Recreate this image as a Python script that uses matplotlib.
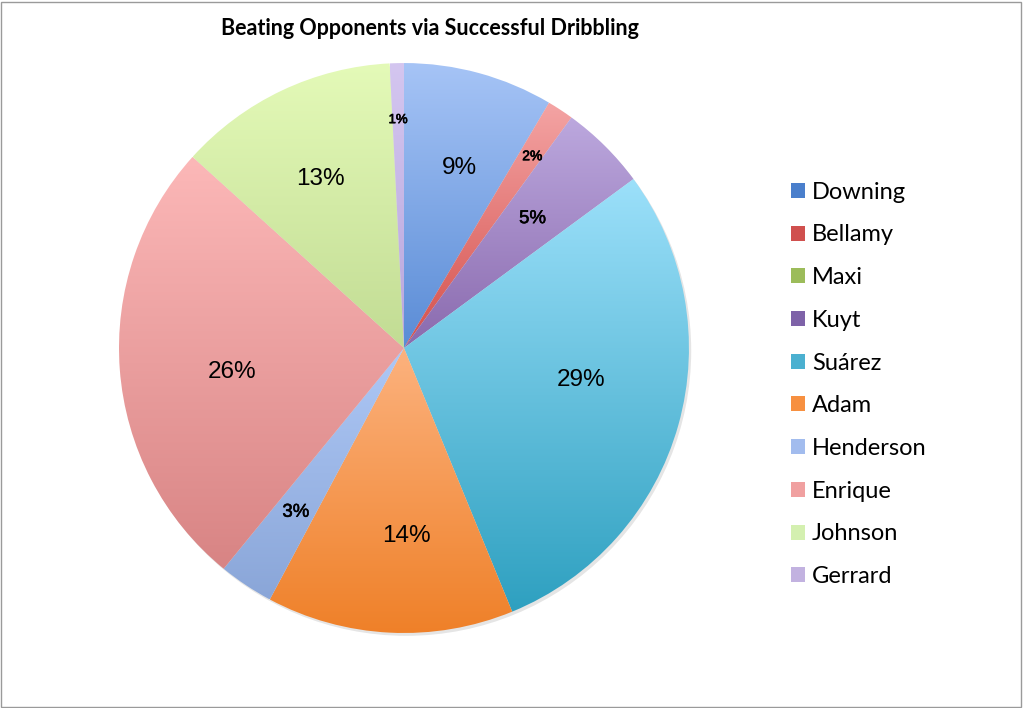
import matplotlib
matplotlib.use('Agg')
import matplotlib.pyplot as plt
import matplotlib.patheffects as pe
import numpy as np
from matplotlib.colors import to_rgb
from matplotlib.patches import Rectangle, Patch, Circle

# data (share of successful dribbles, %)
players = ['Downing', 'Bellamy', 'Maxi', 'Kuyt', 'Suárez', 'Adam',
           'Henderson', 'Enrique', 'Johnson', 'Gerrard']
shares = [8.5, 1.5, 0.0, 4.9, 28.9, 14.0, 3.1, 25.8, 12.5, 0.8]
pct_labels = ['9%', '2%', '', '5%', '29%', '14%', '3%', '26%', '13%', '1%']

# styling: each slice fades from a light top to a darker bottom
top_colors = ['#a6c4f6', '#f4a4a4', '#c8e4a0', '#bca8de', '#9ce0fa',
              '#fcb27e', '#aec8f6', '#fcb8b8', '#e4fab8', '#d4c6f0']
bottom_colors = ['#5a8cd6', '#d4504c', '#9bbb59', '#8a6aae', '#2ea0c0',
                 '#ef8028', '#8aa6d8', '#d88484', '#c2dc94', '#b8a6dc']
legend_colors = ['#4a7fcc', '#d0504e', '#9cbc5a', '#7e62a8', '#4bb0d0',
                 '#f79040', '#a2bcee', '#f0a0a0', '#d4f0b0', '#c2b2e0']
# label placement: distance from centre and angle nudge (deg, clockwise)
label_radius = [0.66, 0.81, 0.7, 0.64, 0.63, 0.66, 0.69, 0.61, 0.66, 0.80]
label_shift = [2.0, 0.5, 0, 0, -5.3, -3.5, -0.3, -3.6, -0.9, 0]
label_size = [17.5, 10, 10, 13.4, 17.5, 17.5, 13.4, 17.5, 17.5, 9.5]
label_stroke = [0, 0.5, 0.5, 0.4, 0, 0, 0.4, 0, 0, 0.5]

fig = plt.figure(figsize=(10.24, 7.08), dpi=100)
ax = fig.add_axes([0.1162, 0.1059, 0.5566, 0.8051])

wedges, _ = ax.pie(shares, startangle=90, counterclock=False, radius=1,
                   wedgeprops=dict(linewidth=0))

# soft shadow behind the pie
ax.add_patch(Circle((0.008, -0.010), 1.0, color='black', alpha=0.10,
                    zorder=0, lw=0, clip_on=False))

grad = np.linspace(0, 1, 256)[:, None, None]
for w, top, bot in zip(wedges, top_colors, bottom_colors):
    if w.theta2 - w.theta1 <= 0:
        continue
    verts = w.get_path().vertices
    x0, y0 = verts.min(axis=0)
    x1, y1 = verts.max(axis=0)
    c0 = np.array(to_rgb(top))
    c1 = np.array(to_rgb(bot))
    img = c0 * (1 - grad) + c1 * grad
    im = ax.imshow(img, extent=[x0, x1, y0, y1], origin='upper',
                   aspect='auto', interpolation='bilinear', zorder=2)
    im.set_clip_path(w)
    w.set_facecolor('none')

for w, txt, r, sh, fs, sw in zip(wedges, pct_labels, label_radius,
                                 label_shift, label_size, label_stroke):
    if not txt:
        continue
    ang = np.deg2rad((w.theta1 + w.theta2) / 2 - sh)
    t = ax.text(r * np.cos(ang), r * np.sin(ang), txt, ha='center', va='center',
                fontsize=fs, family='Liberation Sans', color='black', zorder=5)
    if sw:
        t.set_path_effects([pe.withStroke(linewidth=sw, foreground='black')])

ax.set_xlim(-1, 1)
ax.set_ylim(-1, 1)
ax.set_aspect('equal')
ax.axis('off')

fig.text(430 / 1024, 1 - 35 / 708, 'Beating Opponents via Successful Dribbling',
         ha='center', va='baseline', fontsize=15.5, fontweight='bold',
         family='Lato')

handles = [Patch(facecolor=c, edgecolor='none') for c in legend_colors]
fig.legend(handles, players, loc='upper left', bbox_to_anchor=(0.7513, 0.7735),
           frameon=False, handlelength=0.6, handleheight=0.6,
           handletextpad=0.3, labelspacing=0.92,
           prop=dict(family='Lato', size=17))

fig.patches.append(Rectangle((0.001, 0.002), 0.996, 0.995, transform=fig.transFigure,
                             fill=False, edgecolor='#9a9a9a', lw=1))

fig.savefig('out.png', dpi=100, facecolor='white')
